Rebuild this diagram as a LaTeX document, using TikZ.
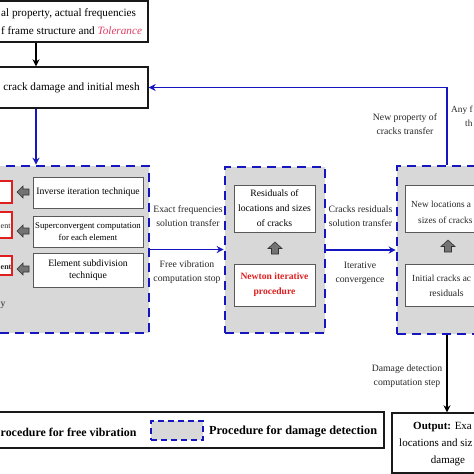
\documentclass[tikz,border=0pt]{standalone}
\usepackage{fontspec}
\setmainfont{Liberation Serif}
\usetikzlibrary{arrows.meta}
\definecolor{dblue}{RGB}{22,22,190}
\definecolor{boxgray}{RGB}{216,216,216}
\definecolor{redline}{RGB}{225,30,30}
\definecolor{tolred}{RGB}{225,60,100}
\begin{document}
\begin{tikzpicture}[x=1pt,y=-1pt,
  blackbox/.style={draw=black!90, line width=1.4pt, fill=white, inner sep=0pt},
  dashbox/.style={draw=dblue, fill=boxgray, line width=2.6pt, dash pattern=on 9pt off 6pt, inner sep=0pt},
  smalldash/.style={draw=dblue, fill=boxgray, line width=2pt, dash pattern=on 6pt off 4pt, inner sep=0pt},
  innerbox/.style={draw=black!65, line width=0.9pt, fill=white, inner sep=0pt, align=center, font=\fontsize{9.7}{15}\selectfont},
  redbox/.style={draw=redline, line width=1.6pt, fill=white, inner sep=0pt},
  txt/.style={inner sep=0pt, align=center, font=\fontsize{9.7}{14}\selectfont, text=black!85},
  edgetxt/.style={inner sep=0pt, anchor=west, font=\fontsize{9.3}{14}\selectfont, text=black!85},
  bigtxt/.style={inner sep=0pt, font=\fontsize{11.2}{17}\selectfont},
  outtxt/.style={inner sep=0pt, font=\fontsize{11}{15}\selectfont},
  legtxt/.style={inner sep=0pt, font=\fontsize{12.3}{15}\selectfont\bfseries},
  blockarrow/.style={draw=black!80, fill=black!55, line width=0.6pt},
  blueconn/.style={draw=dblue, line width=1.6pt, -{Stealth[length=7pt,width=7pt]}},
  blackconn/.style={draw=black, line width=1.5pt, -{Stealth[length=7pt,width=7pt]}}]
\path[use as bounding box] (0,0) rectangle (474,474);
\coordinate (cl) at (36,0);
\coordinate (cr) at (447,0);

% input box
\node[blackbox, minimum width=208pt, minimum height=41pt] (inbox) at (44,21.5) {};
\node[bigtxt, anchor=west] (intxt1) at (1,14) {al property, actual frequencies};
\node[bigtxt, anchor=west] (intxt2) at (1,31) {f frame structure and \textcolor{tolred}{\textit{Tolerance}}};

% mesh box
\node[blackbox, minimum width=208pt, minimum height=41pt] (mesh) at (44,87.5) {};
\node[bigtxt] (meshtxt) at (71.5,88) {crack damage and initial mesh};

% free vibration box
\node[dashbox, minimum width=209pt, minimum height=167pt] (fvbox) at (44.5,249.5) {};
\node[innerbox, minimum width=110pt, minimum height=31pt] (inv) at (88,192.5) {Inverse iteration technique};
\node[innerbox, minimum width=110pt, minimum height=31pt, font=\fontsize{8.8}{12.5}\selectfont] (sup) at (88,231.5) {Superconvergent computation\\for each element};
\node[innerbox, minimum width=110pt, minimum height=34pt, font=\fontsize{9.7}{12.5}\selectfont] (sub) at (88,270) {Element subdivision\\technique};
\node[redbox, minimum width=32pt, minimum height=22pt] (r1) at (-4,192) {};
\node[redbox, minimum width=32pt, minimum height=26pt] (r2) at (-4,225) {};
\node[redbox, minimum width=32pt, minimum height=19pt] (r3) at (-4,265.5) {};
\node[txt, anchor=west, font=\fontsize{8}{10}\selectfont] (r2t) at (0.5,226) {ent};
\node[txt, anchor=west, font=\fontsize{8}{10}\selectfont\bfseries] (r3t) at (0.5,267) {ent};
\node[txt, anchor=west] (ytxt) at (0.5,305) {y};
\foreach \yc in {192,231,269}{
  \draw[blockarrow] (17,\yc) -- (23,\yc-6) -- (23,\yc-3) -- (29,\yc-3) -- (29,\yc+3) -- (23,\yc+3) -- (23,\yc+6) -- cycle;
}

% damage detection box
\node[dashbox, minimum width=100pt, minimum height=166pt] (ddbox) at (275,250) {};
\node[innerbox, minimum width=81pt, minimum height=47pt] (resid) at (274.5,208.5) {Residuals of\\locations and sizes\\of cracks};
\node[innerbox, minimum width=81pt, minimum height=42pt, text=redline, font=\fontsize{9.6}{15}\selectfont\bfseries] (newton) at (274.5,285) {Newton iterative\\procedure};
\draw[blockarrow] (275,242) -- (282,248.5) -- (278.5,248.5) -- (278.5,254) -- (271.5,254) -- (271.5,248.5) -- (268,248.5) -- cycle;

% update box
\node[dashbox, minimum width=143pt, minimum height=168pt] (upbox) at (468.5,250) {};
\node[innerbox, minimum width=135pt, minimum height=47pt] (newloc) at (472.5,208.5) {};
\node[innerbox, minimum width=135pt, minimum height=42pt] (initc) at (472.5,285) {};
\node[edgetxt] (nl1) at (411,204) {New locations a};
\node[edgetxt] (nl2) at (418,220) {sizes of cracks};
\node[edgetxt] (ic1) at (412,278) {Initial cracks ac};
\node[txt] (ic2) at (446.5,293) {residuals};
\draw[blockarrow] (448,240) -- (455,246.5) -- (451.5,246.5) -- (451.5,252) -- (444.5,252) -- (444.5,246.5) -- (441,246.5) -- cycle;

% output box
\node[blackbox, minimum width=128pt, minimum height=60pt] (out) at (456,443) {};
\node[outtxt, anchor=west] (o1) at (413,427) {\textbf{Output:} Exa};
\node[outtxt, anchor=west] (o2) at (399,443) {locations and siz};
\node[outtxt] (o3) at (448,461) {damage};

% legend
\node[blackbox, line width=1.2pt, minimum width=444pt, minimum height=36pt] (legend) at (162,430) {};
\node[legtxt, anchor=west, font=\fontsize{11.9}{15}\selectfont\bfseries] (leg1) at (0.5,432) {rocedure for free vibration};
\node[smalldash, minimum width=52pt, minimum height=19pt] (legsym) at (177,430.5) {};
\node[legtxt, anchor=west] (leg2) at (209,432) {Procedure for damage detection};

% labels
\node[txt] (l1) at (188,216.5) {Exact frequencies\\solution transfer};
\node[txt] (l2) at (187,272) {Free vibration\\computation stop};
\node[txt] (l3) at (360.5,216.5) {Cracks residuals\\solution transfer};
\node[txt] (l4) at (360,273.5) {Iterative\\convergence};
\node[txt] (l5) at (405,124.5) {New property of\\cracks transfer};
\node[txt] (l6) at (407,376) {Damage detection\\computation step};
\node[edgetxt] (l7a) at (451,110) {Any f};
\node[edgetxt] (l7b) at (465,123) {th};

% connectors
\draw[blackconn] (inbox.south -| cl) -- (mesh.north -| cl);
\draw[blueconn] (mesh.south -| cl) -- (fvbox.north -| cl);
\draw[blueconn] (fvbox.east) -- (fvbox.east -| ddbox.west);
\draw[blueconn] (ddbox.east) -- (ddbox.east -| upbox.west);
\draw[blueconn] (upbox.north -| cr) |- (mesh.east);
\draw[blackconn] (upbox.south -| cr) -- (out.north -| cr);
\end{tikzpicture}
\end{document}
